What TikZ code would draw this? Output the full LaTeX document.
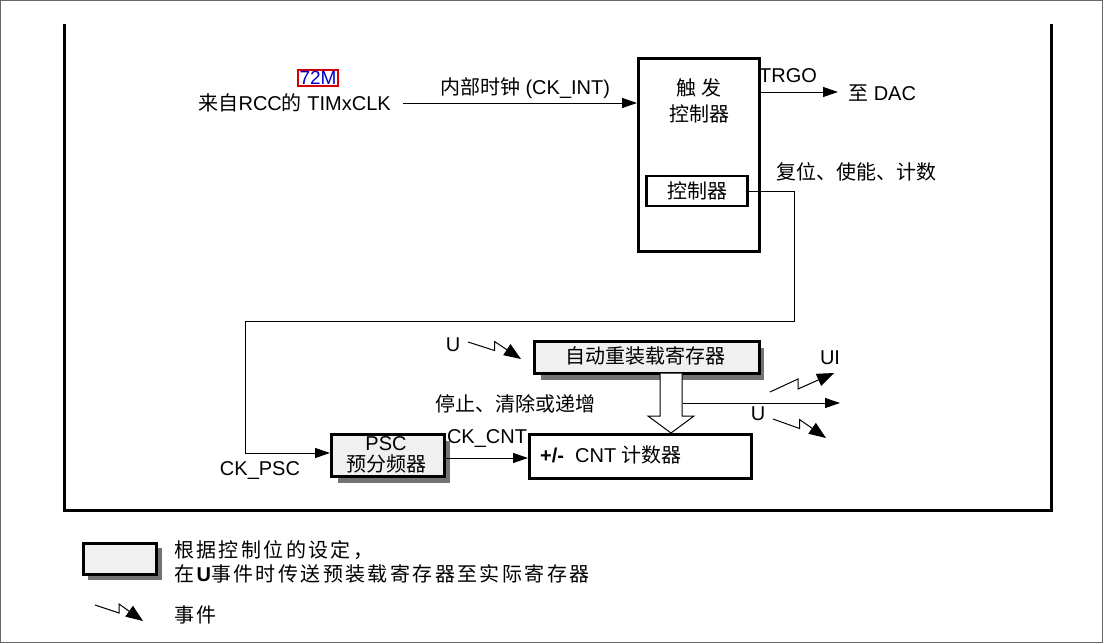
\documentclass[tikz,border=0pt]{standalone}
\usepackage{fontspec}
\setmainfont{Liberation Sans}
\newfontfamily\cjk{Noto Sans CJK SC}
\newfontfamily\cjkw[LetterSpace=12]{Noto Sans CJK SC}
\usetikzlibrary{calc,arrows.meta}
\begin{document}
\begin{tikzpicture}[x=1pt,y=-1pt,
  txt/.style={font=\fontsize{20}{24}\selectfont, inner sep=0pt},
  thick box/.style={draw, line width=3pt},
  regbox/.style={draw, line width=3pt, fill=black!6},
  shade/.style={fill=black!55},
  arr/.style={line width=1pt,-{Triangle[length=15pt,width=10pt]}},
  zap/.style={line width=1pt,-{Triangle[length=17pt,width=13pt]}}]
\useasboundingbox (0,0) rectangle (1103,643);
\draw[black!60, line width=1pt] (0.5,0.5) rectangle (1102.5,642.5);
% main frame
\draw[line width=3pt] (64,24) -- (64,510) -- (1051,510) -- (1051,24);

% clock source
\node[txt, anchor=east] (src) at (391,103) {{\cjk 来自}RCC{\cjk 的} TIMxCLK};
\node[draw=red!85!black, line width=1.5pt, inner sep=1.5pt, text=blue!80!black, font=\fontsize{19}{22}\selectfont] (m72) at (318,78) {72M};
\coordinate (srcR) at (403,103);

% trigger controller
\node[thick box, minimum width=121pt, minimum height=193pt, anchor=north west] (trig) at (637,57) {};
\node[txt, align=center] (trigt) at (699,101) {\cjk 触\ 发\\[2pt]\cjk 控制器};
\node[draw, line width=2.6pt, minimum width=101pt, minimum height=30pt, txt] (ctrl) at (697,191) {\cjk 控制器};
\draw[arr] (srcR) -- (trig.west |- srcR);
\node[txt] (ckint) at (525,88) {{\cjk 内部时钟} (CK\_INT)};

\coordinate (trgS) at (758,92);
\coordinate (trgE) at (838,92);
\draw[arr] (trgS) -- (trgE);
\node[txt] (trgo) at (788,76) {TRGO};
\node[txt, anchor=west] (dac) at (848,93) {{\cjk 至} DAC};
\node[txt, anchor=west] (rst) at (776,172) {\cjk 复位、使能、计数};

% PSC
\fill[shade] (338,441) rectangle (450,483);
\node[regbox, minimum width=113pt, minimum height=42pt, anchor=north west] (psc) at (330,433) {};
\node[txt, align=center] (psct) at (386,455) {PSC\\[-3pt]\cjk 预分频器};
\draw[arr] (ctrl.east) -| (794,321) -| (245,453) -- (psc.west |- 0,453);
\node[txt] (ckpsc) at (260,470) {CK\_PSC};

% counter
\node[draw, line width=2.6pt, minimum width=222pt, minimum height=44pt, anchor=north west] (cnt) at (528,433) {};
\node[txt, anchor=west] (cntt) at (540,455) {\textbf{+/-}\ \ CNT {\cjk 计数器}};
\draw[arr] (psc.east |- 0,458) -- (cnt.west |- 0,458);
\node[txt] (ckcnt) at (487,438) {CK\_CNT};

% auto reload
\fill[shade] (541,348) rectangle (764,380);
\node[regbox, minimum width=225pt, minimum height=32pt, anchor=north west, txt] (arr) at (533,340) {};
\node[txt] (arrt) at (645,356) {\cjk 自动重装载寄存器};
\draw[line width=1pt, fill=white] (660,373.5) -- (660,416) -- (648,416) -- (671,433) -- (694,416) -- (682,416) -- (682,373.5);
\node[txt] (stop) at (515,404) {\cjk 停止、清除或递增};

\coordinate (ovS) at (683,403);
\coordinate (ovE) at (840,403);
\draw[arr] (ovS) -- (ovE);

% zaps
\newcommand\zapdraw[2]{\draw[zap] (#1) -- ($(#1)!0.5!(#2)$) -- ++(0,-9) -- (#2);}
\coordinate (z1a) at (468,342); \coordinate (z1b) at (521,359);
\zapdraw{z1a}{z1b}
\node[txt] (u1) at (453,345) {U};
\coordinate (z2a) at (770,392); \coordinate (z2b) at (834,373);
\draw[zap] (z2a) -- (798,379) -- ++(0,10) -- (z2b);
\node[txt] (ui) at (830,358) {UI};
\coordinate (z3a) at (773,419); \coordinate (z3b) at (826,438);
\zapdraw{z3a}{z3b}
\node[txt] (u2) at (758,414) {U};

% legend
\fill[shade] (88,548) rectangle (162,580);
\node[draw, line width=3pt, fill=black!6, minimum width=73pt, minimum height=31pt, anchor=north west] (leg) at (82,542) {};
\node[txt, anchor=north west, align=left] (legt) at (174,540) {\cjkw 根据控制位的设定，\\[0pt]{\cjkw 在}\textbf{U}{\cjkw 事件时传送预装载寄存器至实际寄存器}};
\coordinate (z4a) at (95,605); \coordinate (z4b) at (143,621);
\zapdraw{z4a}{z4b}
\node[txt, anchor=west] (evt) at (174,615) {\cjkw 事件};
\end{tikzpicture}
\end{document}
